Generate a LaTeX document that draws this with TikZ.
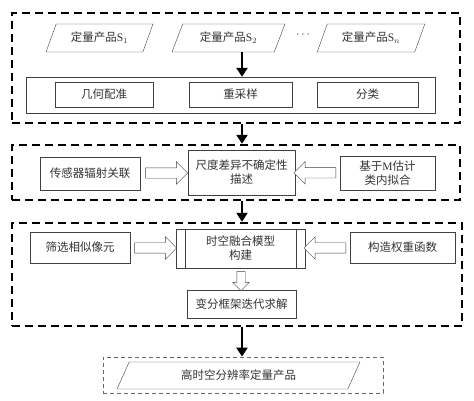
\documentclass[tikz,border=0pt]{standalone}
\usepackage{fontspec}
\setmainfont{Liberation Serif}
\newfontfamily\cjk{Noto Sans CJK SC}
\usetikzlibrary{shapes.geometric,shapes.arrows,arrows.meta}

\begin{document}
\begin{tikzpicture}[x=1pt, y=-1pt,
	every node/.style={font=\fontsize{11.5}{14}\selectfont\cjk, text=black!80},
	group/.style={draw, line width=2.4pt, dash pattern=on 8pt off 5pt},
	box/.style={draw=black!75, thin, minimum height=25pt, inner sep=1pt, align=center},
	prod/.style={draw=black!75, thin, trapezium, trapezium left angle=63, trapezium right angle=117,
		trapezium stretches=true, minimum height=28pt, inner sep=1pt},
	flow/.style={line width=2.6pt, -{Triangle[width=11pt,length=9pt]}},
	hollow/.style={draw=black!75, thin, fill=white, single arrow, single arrow head extend=6pt,
		minimum height=42pt, inner sep=5pt}]
	\useasboundingbox (0, 0) rectangle (474, 401);
	\coordinate (ax) at (242, 0);
	%input products
	\node[group, minimum width=448pt, minimum height=110pt] (pre) at (236, 68) {};
	\node[prod, minimum width=107pt] (s1) at (99.5, 38) {定量产品{\rmfamily S$_1$}};
	\node[prod, minimum width=113pt] (s2) at (228.5, 38) {定量产品{\rmfamily S$_2$}};
	\node (dots) at (303, 35) {$\cdots$};
	\node[prod, minimum width=108pt] (sn) at (371, 38) {定量产品{\rmfamily S$_n$}};
	\node[draw=black!75, thin, minimum width=409pt, minimum height=36pt] (prep) at (230.5, 95) {};
	\foreach \x/\w/\t/\n in {104/98/几何配准/geo, 240.5/103/重采样/res, 367.5/101/分类/cls}
		\node[box, minimum width=\w pt] (\n) at (\x, 94.5) {\t};
	\draw[flow] (ax |- s2.south) -- (ax |- prep.north);
	%uncertainty
	\node[group, minimum width=448pt, minimum height=55pt] (unc) at (236, 172.5) {};
	\node[box, minimum width=100pt, minimum height=33pt] (sens) at (90, 173.5) {传感器辐射关联};
	\node[box, minimum width=107pt, minimum height=45pt] (scale) at (241.5, 172.5) {尺度差异不确定性\\描述};
	\node[box, minimum width=95pt, minimum height=34pt] (mfit) at (387.5, 173) {基于{\rmfamily M}估计\\类内拟合};
	\path (sens) -- node[hollow] {} (scale);
	\path (mfit) -- node[hollow, shape border rotate=180] {} (scale);
	\draw[flow] (ax |- pre.south) -- (ax |- unc.north);
	%fusion model
	\node[group, minimum width=450pt, minimum height=103pt] (fus) at (237, 274.5) {};
	\node[box, minimum width=100pt, minimum height=31pt] (sim) at (80, 247.5) {筛选相似像元};
	\node[box, minimum width=129pt, minimum height=39pt] (model) at (240.5, 248.5) {时空融合模型\\构建};
	\draw[black!75, thin] ([xshift=9pt]model.north west) -- ([xshift=9pt]model.south west);
	\draw[black!75, thin] ([xshift=-9pt]model.north east) -- ([xshift=-9pt]model.south east);
	\node[box, minimum width=105pt, minimum height=31pt] (wgt) at (402.5, 247.5) {构造权重函数};
	\node[box, minimum width=109pt, minimum height=28pt] (solve) at (241.5, 304) {变分框架迭代求解};
	\path (sim) -- node[hollow] {} (model);
	\path (wgt) -- node[hollow, shape border rotate=180] {} (model);
	\path (model) -- node[hollow, shape border rotate=270, minimum height=19pt, inner sep=4pt,
		single arrow head extend=4pt] {} (solve);
	\draw[flow] (ax |- unc.south) -- (ax |- fus.north);
	%output
	\node[draw=black!60, thick, dash pattern=on 4pt off 3pt, minimum width=280pt, minimum height=36pt] (outbox) at (243, 375) {};
	\node[prod, minimum width=243pt, minimum height=27pt] (out) at (238.5, 375.5) {高时空分辨率定量产品};
	\draw[flow] (ax |- fus.south) -- (ax |- outbox.north);
\end{tikzpicture}
\end{document}
